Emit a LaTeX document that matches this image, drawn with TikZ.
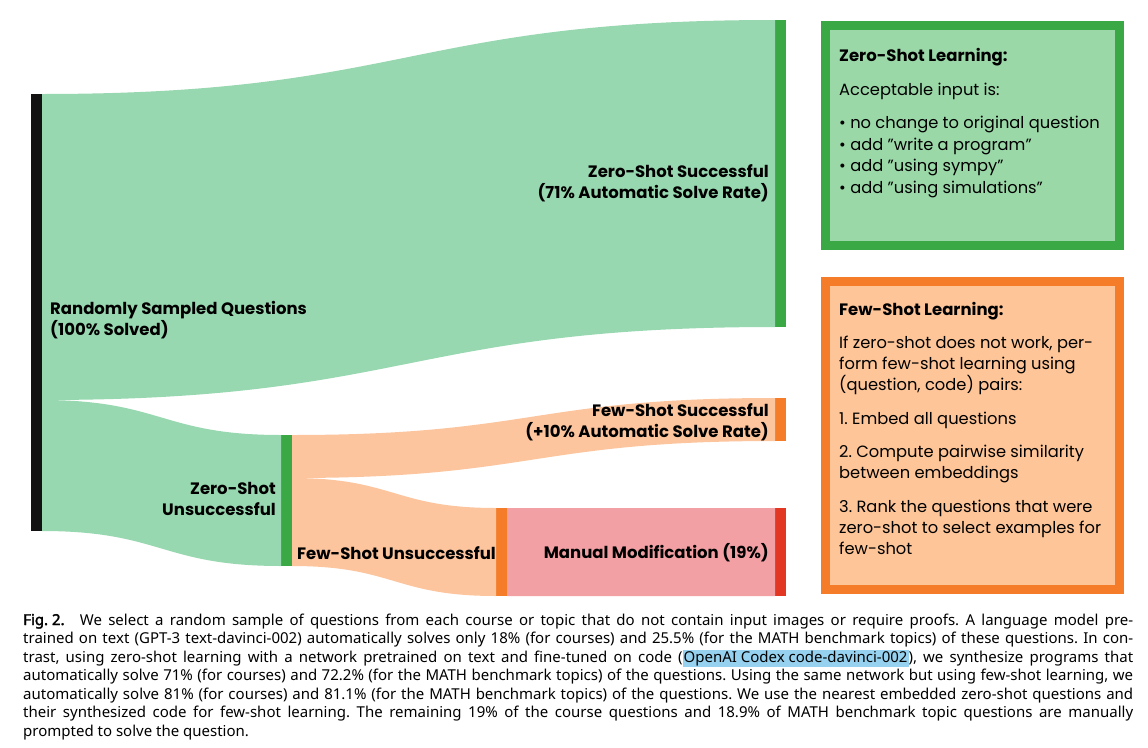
\documentclass[tikz,border=0pt]{standalone}
\usepackage{fontspec}
\setmainfont{Poppins}
\newfontfamily\capfont{Noto Sans}
\newfontfamily\capbf{Noto Sans}[FakeBold=2.5]
\usetikzlibrary{calc}
\definecolor{flowgreen}{RGB}{152,216,176}
\definecolor{bargreen}{RGB}{58,168,69}
\definecolor{flowor}{RGB}{252,197,158}
\definecolor{baror}{RGB}{245,125,42}
\definecolor{flowpink}{RGB}{242,160,164}
\definecolor{barred}{RGB}{225,55,35}
\definecolor{boxgreen}{RGB}{155,216,168}
\definecolor{boxor}{RGB}{253,197,152}
\definecolor{hl}{RGB}{150,210,240}
\newcommand\sflow[5]{%
  \coordinate (fm) at ($(#2)!0.5!(#3)$);
  \fill[#1] (#2) .. controls (fm |- #2) and (fm |- #3) .. (#3) -- (#4)
     .. controls (fm |- #4) and (fm |- #5) .. (#5) -- cycle;}
\frenchspacing
\begin{document}
\begin{tikzpicture}[x=1pt,y=-1pt,
  bar/.style={draw=none,inner sep=0,outer sep=0,minimum width=11pt,anchor=north west},
  lbl/.style={inner sep=0,font=\fontsize{16.5}{21}\selectfont\bfseries},
  infobox/.style={inner sep=0,outer sep=0,line width=9pt,minimum width=294pt,anchor=north west},
  boxtxt/.style={inner sep=0,anchor=base west,font=\fontsize{16.3}{21}\selectfont},
  boxhead/.style={boxtxt,font=\fontsize{16.5}{21}\selectfont\bfseries},
  capline/.style={inner sep=0,anchor=base west,font=\capfont\fontsize{15}{18}\selectfont}]
\fill[white] (0,0) rectangle (1148,747);
\useasboundingbox (0,0) rectangle (1148,747);
% bars
\node[bar,fill=black!93,minimum height=437pt] (root) at (31,94) {};
\node[bar,fill=bargreen,minimum height=307pt] (zs) at (775,20) {};
\node[bar,fill=bargreen,minimum height=131pt] (zu) at (281,435) {};
\node[bar,fill=baror,minimum height=43pt] (fs) at (775,398) {};
\node[bar,fill=baror,minimum height=88pt] (fu) at (496,508) {};
\node[bar,fill=barred,minimum height=88pt] (mm) at (775,508) {};
% split points
\coordinate (rootsplit) at ($(root.north east)+(0,306)$);
\coordinate (zusplit) at ($(zu.north east)+(0,43)$);
% flows
\sflow{flowgreen}{root.north east}{zs.north west}{zs.south west}{rootsplit}
\sflow{flowgreen}{rootsplit}{zu.north west}{zu.south west}{root.south east}
\sflow{flowor}{zu.north east}{fs.north west}{fs.south west}{zusplit}
\sflow{flowor}{zusplit}{fu.north west}{fu.south west}{zu.south east}
\sflow{flowpink}{fu.north east}{mm.north west}{mm.south west}{fu.south east}
% labels
\node[lbl,anchor=east,align=right] (lzs) at (769,183) {Zero-Shot Successful\\(71\% Automatic Solve Rate)};
\node[lbl,anchor=west,align=left] (lroot) at (50,320) {Randomly Sampled Questions\\(100\% Solved)};
\node[lbl,anchor=east,align=right] (lzu) at (276,499) {Zero-Shot\\Unsuccessful};
\node[lbl,anchor=east,align=right] (lfs) at (769,422) {Few-Shot Successful\\(+10\% Automatic Solve Rate)};
\node[lbl,anchor=west] (lfu) at (297,553) {Few-Shot Unsuccessful};
\node[lbl,anchor=east] (lmm) at (769,553) {Manual Modification (19\%)};
% info boxes
\node[infobox,draw=bargreen,fill=boxgreen,minimum height=220pt] (zbox) at (825.5,25.5) {};
\node[boxhead] (z1) at (839,61) {Zero-Shot Learning:};
\node[boxtxt] (z2) at (839,95) {Acceptable input is:};
\node[boxtxt] (z3) at (839,128) {• no change to original question};
\node[boxtxt] (z4) at (839,150) {• add ”write a program”};
\node[boxtxt] (z5) at (839,171) {• add ”using sympy”};
\node[boxtxt] (z6) at (839,193) {• add ”using simulations”};
\node[infobox,draw=baror,fill=boxor,minimum height=308pt] (fbox) at (825.5,281.5) {};
\node[boxhead] (f1) at (839,315) {Few-Shot Learning:};
\node[boxtxt] (f2) at (839,348) {If zero-shot does not work, per-};
\node[boxtxt] (f3) at (839,369) {form few-shot learning using};
\node[boxtxt] (f4) at (839,390) {(question, code) pairs:};
\node[boxtxt] (f5) at (839,424) {1. Embed all questions};
\node[boxtxt] (f6) at (839,457) {2. Compute pairwise similarity};
\node[boxtxt] (f7) at (839,478) {between embeddings};
\node[boxtxt] (f8) at (839,512) {3. Rank the questions that were};
\node[boxtxt] (f9) at (839,533) {zero-shot to select examples for};
\node[boxtxt] (f10) at (839,554) {few-shot};
% caption
\node[capline] (c1) at (23,625) {\makebox[1110pt][s]{\mbox{\capbf Fig. 2.}\hspace{9pt} We select a random sample of questions from each course or topic that do not contain input images or require proofs. A language model pre-}};
\node[capline] (c2) at (23,643.5) {\makebox[1110pt][s]{trained on text (GPT-3 text-davinci-002) automatically solves only 18\% (for courses) and 25.5\% (for the MATH benchmark topics) of these questions. In con-}};
\node[capline] (c3) at (23,662) {\makebox[1110pt][s]{trast, using zero-shot learning with a network pretrained on text and fine-tuned on code (\setlength{\fboxsep}{1pt}\colorbox{hl}{OpenAI Codex code-davinci-002}), we synthesize programs that}};
\node[capline] (c4) at (23,680.5) {\makebox[1110pt][s]{automatically solve 71\% (for courses) and 72.2\% (for the MATH benchmark topics) of the questions. Using the same network but using few-shot learning, we}};
\node[capline] (c5) at (23,699) {\makebox[1110pt][s]{automatically solve 81\% (for courses) and 81.1\% (for the MATH benchmark topics) of the questions. We use the nearest embedded zero-shot questions and}};
\node[capline] (c6) at (23,717.5) {\makebox[1110pt][s]{their synthesized code for few-shot learning. The remaining 19\% of the course questions and 18.9\% of MATH benchmark topic questions are manually}};
\node[capline] (c7) at (23,736) {prompted to solve the question.};
\end{tikzpicture}
\end{document}
